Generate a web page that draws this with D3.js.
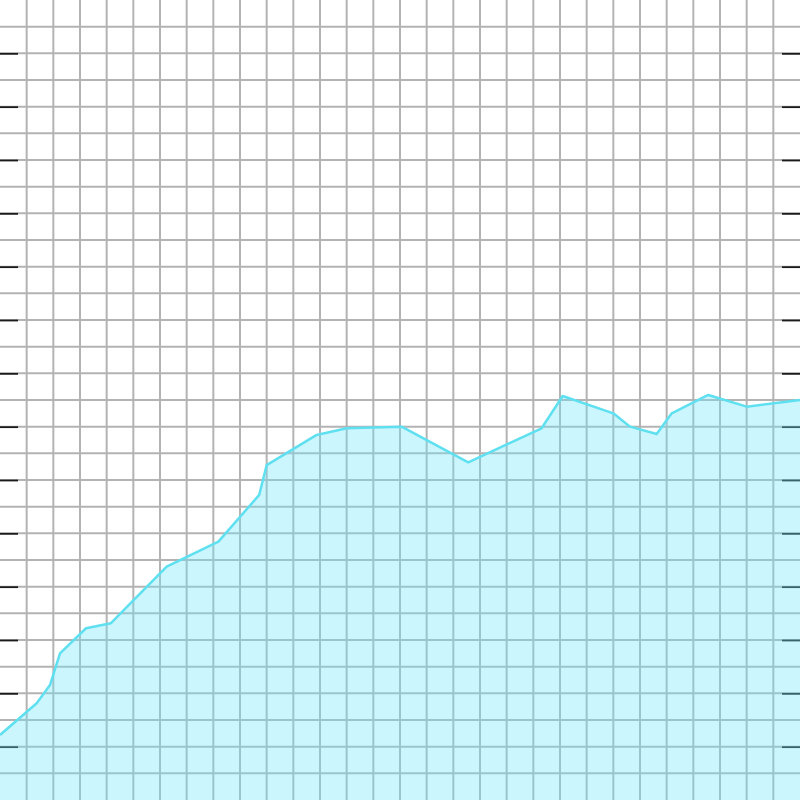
<!DOCTYPE html>
<html>
<head>
<meta charset="utf-8">
<script src="https://cdn.jsdelivr.net/npm/d3@7"></script>
<style>
  html, body { margin: 0; padding: 0; background: #fff; }
  svg { display: block; }
</style>
</head>
<body>
<svg id="chart" width="800" height="800"></svg>
<script>
// Data (grid units: x 0..30, y 0..30)
const xValues = [0, 1.375, 1.875, 2.25, 3.225, 4.16, 6.25, 8.19, 9.72, 10.0, 11.875, 13.0, 15.06, 17.56, 20.31, 21.1, 23.0, 23.625, 24.625, 25.19, 26.56, 28.0, 30];
const yValues = [2.44, 3.63, 4.31, 5.5, 6.44, 6.63, 8.75, 9.69, 11.44, 12.56, 13.69, 13.94, 14.0, 12.66, 13.94, 15.15, 14.5, 14.0, 13.725, 14.5, 15.19, 14.75, 15.0];
const gridValues = d3.range(1, 30);
const tickValues = [2, 4, 6, 8, 10, 12, 14, 16, 18, 20, 22, 24, 26, 28];
const tickLabels = tickValues.map(() => "");

const W = 800, H = 800;
const svg = d3.select("#chart");
const x = d3.scaleLinear().domain([0, 30]).range([0, W]);
const y = d3.scaleLinear().domain([0, 30]).range([H, 0]);

svg.append("rect").attr("width", W).attr("height", H).attr("fill", "#ffffff");

// Grid
const grid = svg.append("g").attr("stroke", "#b3b3b3").attr("stroke-width", 2);
grid.selectAll("line.v").data(gridValues).join("line").attr("class", "v")
  .attr("x1", d => x(d)).attr("x2", d => x(d)).attr("y1", 0).attr("y2", H);
grid.selectAll("line.h").data(gridValues).join("line").attr("class", "h")
  .attr("y1", d => y(d)).attr("y2", d => y(d)).attr("x1", 0).attr("x2", W);

// Axes ticks (no labels)
const axL = d3.axisRight(y).tickValues(tickValues).tickSize(18).tickFormat((d, i) => tickLabels[i]);
const axR = d3.axisLeft(y).tickValues(tickValues).tickSize(18).tickFormat((d, i) => tickLabels[i]);
const gL = svg.append("g").attr("transform", "translate(0,0)").call(axL);
const gR = svg.append("g").attr("transform", `translate(${W},0)`).call(axR);
[gL, gR].forEach(g => {
  g.select(".domain").remove();
  g.selectAll(".tick line").attr("stroke", "#1a1a1a").attr("stroke-width", 1.8);
  g.selectAll(".tick text").remove();
});

// Area + line
const pts = xValues.map((v, i) => [v, yValues[i]]);
const area = d3.area().x(d => x(d[0])).y0(y(0)).y1(d => y(d[1]));
const line = d3.line().x(d => x(d[0])).y(d => y(d[1]));

svg.append("path").datum(pts).attr("d", area)
  .attr("fill", "rgb(114,230,250)").attr("fill-opacity", 0.36);
svg.append("path").datum(pts).attr("d", line)
  .attr("fill", "none").attr("stroke", "#5fe0f0").attr("stroke-width", 2.5)
  .attr("stroke-linejoin", "round");
</script>
</body>
</html>
